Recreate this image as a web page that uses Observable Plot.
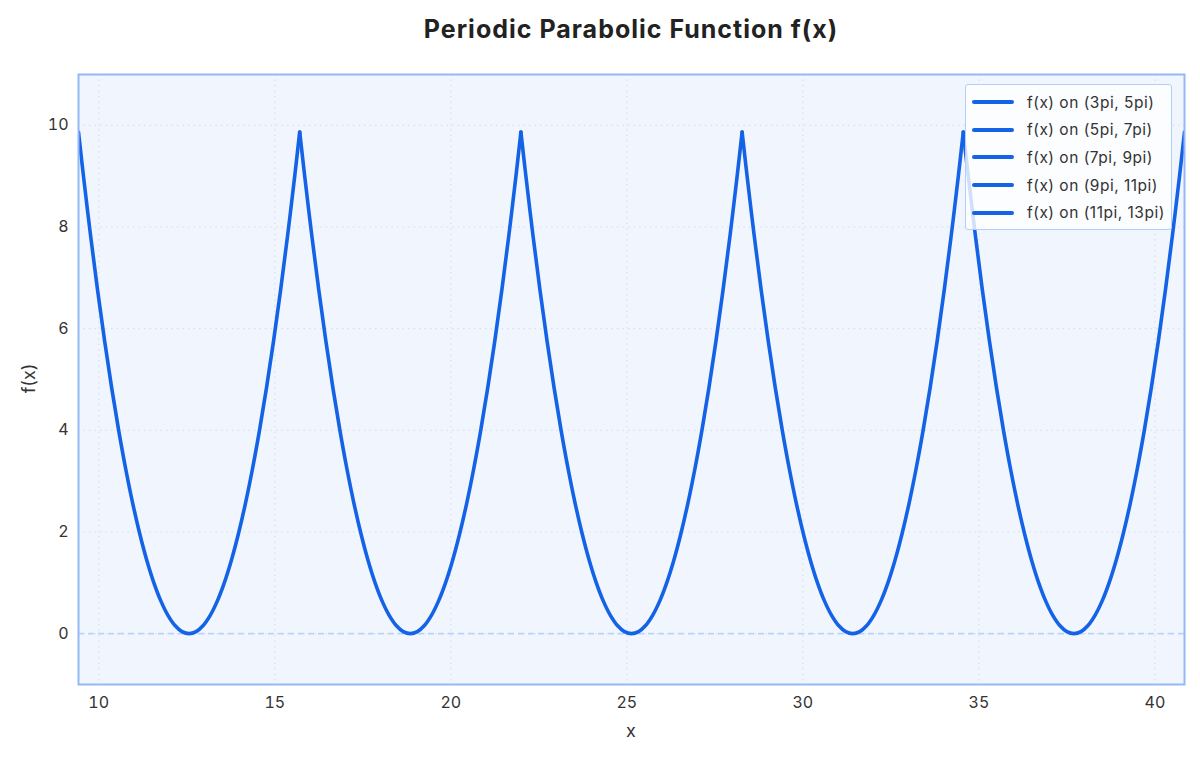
<!DOCTYPE html>
<html>
<head>
<meta charset="utf-8">
<script src="https://cdn.jsdelivr.net/npm/d3@7"></script>
<script src="https://cdn.jsdelivr.net/npm/@observablehq/plot@0.6"></script>
<style>
  html, body { margin: 0; padding: 0; background: #ffffff; }
  #wrap { position: relative; width: 1200px; height: 761px; font-family: "Inter", "Lato", sans-serif; }
  #title { position: absolute; top: 14px; left: 78px; width: 1106px; text-align: center; font-size: 25px; letter-spacing: 1px; font-weight: 700; color: #222; }
  .axlab { position: absolute; font-size: 18px; color: #333; }
  #legend { position: absolute; left: 965px; top: 84px; width: 207px; height: 146px; box-sizing: border-box;
            border: 1.5px solid #b4cff7; border-radius: 3px; background: rgba(255,255,255,0.8); }
  .lrow { position: absolute; left: 6px; height: 20px; display: flex; align-items: center; font-size: 15.5px; letter-spacing: 0.5px; color: #333; white-space: nowrap; }
  .lsw { width: 42px; height: 4px; background: #1463e6; border-radius: 2px; margin-right: 13px; }
</style>
</head>
<body>
<div id="wrap">
  <div id="title">Periodic Parabolic Function f(x)</div>
  <div id="chart"></div>
  <div class="axlab" style="left:620px; top:720px; width:22px; text-align:center;">x</div>
  <div class="axlab" style="left:6px; top:368px; width:44px; text-align:center; transform: rotate(-90deg);">f(x)</div>
  <div id="legend"></div>
</div>
<script>
// Series labels (one per period interval)
const seriesLabels = ["f(x) on (3pi, 5pi)", "f(x) on (5pi, 7pi)", "f(x) on (7pi, 9pi)", "f(x) on (9pi, 11pi)", "f(x) on (11pi, 13pi)"];
// Centre of each interval (4pi, 6pi, 8pi, 10pi, 12pi)
const centers = [12.566, 18.850, 25.133, 31.416, 37.699];
// Offsets from the centre within one period and the curve's value there
const offsets = [-3.1416, -3.0, -2.8, -2.6, -2.4, -2.2, -2.0, -1.8, -1.6, -1.4, -1.2, -1.0, -0.8, -0.6, -0.4, -0.2, 0,
                 0.2, 0.4, 0.6, 0.8, 1.0, 1.2, 1.4, 1.6, 1.8, 2.0, 2.2, 2.4, 2.6, 2.8, 3.0, 3.1416];
const values = [9.87, 9.00, 7.84, 6.76, 5.76, 4.84, 4.00, 3.24, 2.56, 1.96, 1.44, 1.00, 0.64, 0.36, 0.16, 0.04, 0,
                0.04, 0.16, 0.36, 0.64, 1.00, 1.44, 1.96, 2.56, 3.24, 4.00, 4.84, 5.76, 6.76, 7.84, 9.00, 9.87];
const xTicks = [10, 15, 20, 25, 30, 35, 40];
const yTicks = [0, 2, 4, 6, 8, 10];
const xDomain = [9.4248, 40.8407];
const yDomain = [-1, 11];

const data = [];
seriesLabels.forEach((s, i) => {
  offsets.forEach((o, j) => data.push({series: s, x: centers[i] + o, y: values[j]}));
});

const lineColor = "#1463e6";

const plot = Plot.plot({
  width: 1200,
  height: 761,
  marginTop: 74,
  marginBottom: 77,
  marginLeft: 78,
  marginRight: 16,
  style: {fontFamily: "Inter, Lato, sans-serif", fontSize: "16px", color: "#333", background: "transparent"},
  x: {domain: xDomain, ticks: xTicks, label: null},
  y: {domain: yDomain, ticks: yTicks, label: null},
  marks: [
    Plot.frame({fill: "#f1f6fe"}),
    Plot.gridX(xTicks, {stroke: "#d6e0f0", strokeOpacity: 1, strokeDasharray: "1.5,4", strokeWidth: 1.2}),
    Plot.gridY(yTicks, {stroke: "#d6e0f0", strokeOpacity: 1, strokeDasharray: "1.5,4", strokeWidth: 1.2}),
    Plot.ruleY([0], {stroke: "#b9d4f9", strokeWidth: 1.6, strokeDasharray: "6,4"}),
    Plot.line(data, {x: "x", y: "y", z: "series", stroke: lineColor, strokeWidth: 3.6, curve: "catmull-rom", clip: true}),
    Plot.frame({stroke: "#93b9f4", strokeWidth: 2}),
    Plot.axisX(xTicks, {tickSize: 0, tickPadding: 12, fontSize: 16, fill: "#333", tickFormat: d => String(d)}),
    Plot.axisY(yTicks, {tickSize: 0, tickPadding: 10, fontSize: 16, fill: "#333", tickFormat: d => String(d)})
  ]
});
document.getElementById("chart").appendChild(plot);

const legend = document.getElementById("legend");
seriesLabels.forEach((s, i) => {
  const row = document.createElement("div");
  row.className = "lrow";
  row.style.top = (7 + i * 27.7) + "px";
  const sw = document.createElement("div");
  sw.className = "lsw";
  const tx = document.createElement("span");
  tx.textContent = s;
  row.appendChild(sw);
  row.appendChild(tx);
  legend.appendChild(row);
});
</script>
</body>
</html>
